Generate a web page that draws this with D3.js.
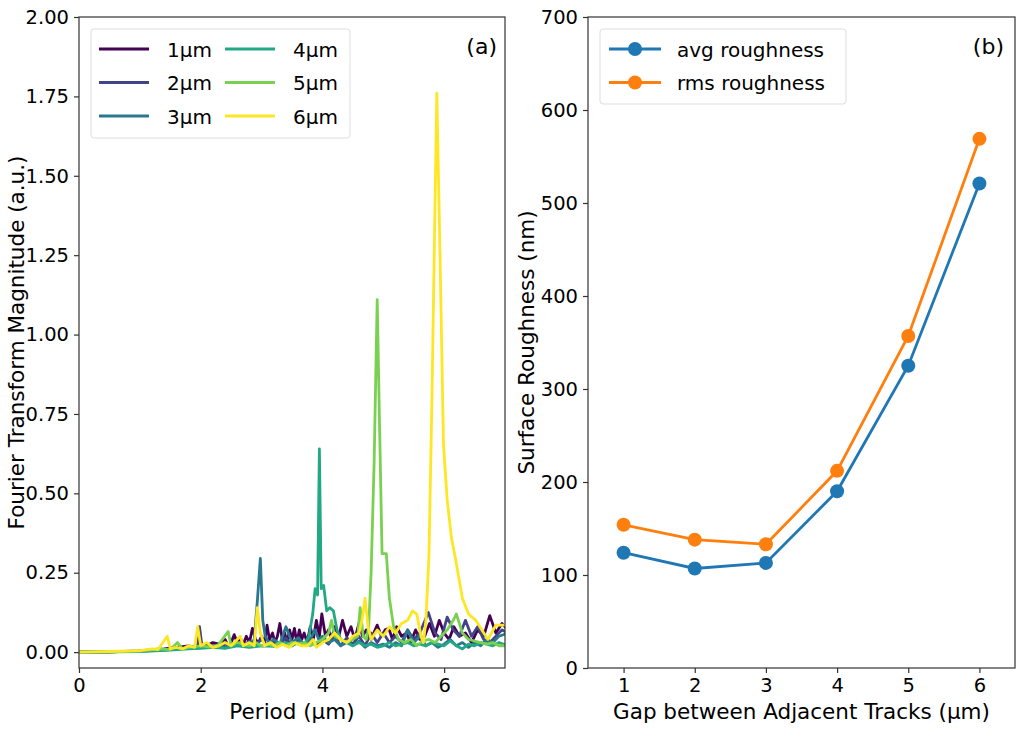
<!DOCTYPE html>
<html>
<head>
<meta charset="utf-8">
<script src="https://cdn.jsdelivr.net/npm/d3@7"></script>
<style>
  body { margin: 0; background: #fff; }
  text { font-family: "DejaVu Sans", sans-serif; fill: #000; }
</style>
</head>
<body>
<svg id="chart" width="1025" height="734"></svg>
<script>
// ---- data: panel (a), FFT magnitude vs period, [period µm, magnitude]
const gap1 = [[0,0],[0.5,0.001],[1,0.004],[1.2,0.008],[1.4,0.01],[1.6,0.015],[1.8,0.02],[1.9,0.015],[2.0,0.025],[2.1,0.02],[2.2,0.03],[2.3,0.025],[2.4,0.04],[2.45,0.02],[2.5,0.03],[2.55,0.055],[2.6,0.03],[2.65,0.045],[2.7,0.025],[2.75,0.05],[2.8,0.03],[2.85,0.075],[2.9,0.04],[2.95,0.03],[3.0,0.05],[3.05,0.03],[3.09,0.085],[3.13,0.04],[3.18,0.06],[3.22,0.03],[3.26,0.05],[3.3,0.09],[3.34,0.04],[3.38,0.06],[3.42,0.03],[3.46,0.07],[3.5,0.04],[3.54,0.075],[3.58,0.03],[3.62,0.07],[3.66,0.04],[3.7,0.06],[3.75,0.03],[3.8,0.08],[3.85,0.04],[3.9,0.1],[3.95,0.05],[3.99,0.12],[4.05,0.05],[4.1,0.07],[4.15,0.04],[4.2,0.08],[4.27,0.05],[4.33,0.1],[4.4,0.05],[4.47,0.08],[4.53,0.04],[4.6,0.09],[4.66,0.05],[4.72,0.07],[4.8,0.04],[4.9,0.085],[4.97,0.05],[5.03,0.07],[5.09,0.075],[5.15,0.04],[5.22,0.08],[5.3,0.05],[5.38,0.06],[5.45,0.03],[5.53,0.07],[5.6,0.04],[5.68,0.05],[5.76,0.09],[5.84,0.05],[5.92,0.1],[6.0,0.06],[6.08,0.04],[6.16,0.08],[6.25,0.05],[6.35,0.06],[6.45,0.03],[6.55,0.07],[6.65,0.05],[6.75,0.115],[6.85,0.06],[6.95,0.09],[7.05,0.07]];
const gap2 = [[0,0],[0.5,0.001],[1,0.003],[1.3,0.006],[1.6,0.01],[1.8,0.015],[1.95,0.02],[1.98,0.08],[2.02,0.02],[2.1,0.015],[2.2,0.02],[2.3,0.015],[2.4,0.025],[2.5,0.02],[2.6,0.03],[2.7,0.02],[2.8,0.035],[2.9,0.025],[3.0,0.04],[3.1,0.02],[3.2,0.035],[3.3,0.025],[3.4,0.045],[3.5,0.02],[3.6,0.04],[3.7,0.025],[3.8,0.035],[3.9,0.02],[4.0,0.04],[4.1,0.025],[4.2,0.05],[4.3,0.02],[4.4,0.045],[4.5,0.025],[4.6,0.05],[4.7,0.02],[4.8,0.06],[4.9,0.03],[5.0,0.06],[5.1,0.03],[5.2,0.05],[5.3,0.03],[5.4,0.07],[5.5,0.04],[5.6,0.06],[5.74,0.125],[5.85,0.06],[5.95,0.04],[6.05,0.11],[6.15,0.07],[6.25,0.05],[6.35,0.1],[6.45,0.05],[6.55,0.08],[6.65,0.04],[6.75,0.03],[6.85,0.05],[6.95,0.07],[7.05,0.06]];
const gap3 = [[0,0],[0.5,0.001],[1,0.003],[1.5,0.008],[1.8,0.012],[2.0,0.015],[2.2,0.02],[2.4,0.015],[2.6,0.025],[2.8,0.02],[2.88,0.04],[2.93,0.16],[2.98,0.295],[3.02,0.1],[3.06,0.05],[3.12,0.03],[3.2,0.04],[3.3,0.025],[3.4,0.08],[3.5,0.03],[3.6,0.045],[3.7,0.025],[3.8,0.04],[3.88,0.07],[3.94,0.04],[4.0,0.05],[4.1,0.03],[4.2,0.04],[4.3,0.02],[4.4,0.03],[4.5,0.02],[4.6,0.035],[4.7,0.015],[4.8,0.03],[4.9,0.02],[5.0,0.025],[5.1,0.015],[5.2,0.03],[5.3,0.02],[5.4,0.07],[5.5,0.03],[5.6,0.05],[5.7,0.02],[5.8,0.03],[5.9,0.015],[6.0,0.025],[6.1,0.04],[6.2,0.02],[6.3,0.03],[6.4,0.015],[6.5,0.03],[6.6,0.02],[6.7,0.04],[6.8,0.03],[6.9,0.05],[7.05,0.06]];
const gap4 = [[0,0],[0.5,0.001],[1,0.002],[1.5,0.006],[1.8,0.01],[2.0,0.012],[2.2,0.015],[2.4,0.012],[2.6,0.02],[2.8,0.015],[3.0,0.02],[3.2,0.018],[3.4,0.03],[3.5,0.02],[3.6,0.03],[3.7,0.025],[3.78,0.05],[3.84,0.12],[3.88,0.2],[3.92,0.18],[3.95,0.64],[3.98,0.2],[4.02,0.21],[4.07,0.13],[4.12,0.14],[4.18,0.13],[4.24,0.07],[4.3,0.04],[4.4,0.03],[4.5,0.02],[4.6,0.03],[4.7,0.02],[4.8,0.025],[4.9,0.015],[5.0,0.02],[5.1,0.03],[5.2,0.02],[5.3,0.025],[5.4,0.03],[5.5,0.02],[5.6,0.025],[5.7,0.02],[5.8,0.03],[5.9,0.025],[6.0,0.02],[6.1,0.035],[6.2,0.02],[6.3,0.01],[6.4,0.025],[6.5,0.02],[6.6,0.03],[6.7,0.025],[6.8,0.02],[6.9,0.03],[7.05,0.02]];
const gap5 = [[0,0],[0.5,0.001],[1,0.003],[1.3,0.01],[1.5,0.008],[1.62,0.03],[1.7,0.01],[1.8,0.015],[2.0,0.02],[2.2,0.015],[2.3,0.025],[2.45,0.065],[2.5,0.02],[2.6,0.03],[2.7,0.025],[2.8,0.02],[2.9,0.03],[3.0,0.02],[3.1,0.025],[3.2,0.02],[3.3,0.03],[3.4,0.02],[3.5,0.03],[3.6,0.025],[3.7,0.03],[3.8,0.02],[3.9,0.03],[4.0,0.04],[4.1,0.06],[4.15,0.1],[4.2,0.05],[4.3,0.04],[4.4,0.03],[4.5,0.04],[4.58,0.05],[4.62,0.14],[4.67,0.05],[4.72,0.04],[4.76,0.08],[4.8,0.25],[4.85,0.6],[4.9,1.11],[4.94,0.7],[4.98,0.31],[5.05,0.31],[5.1,0.17],[5.17,0.08],[5.25,0.04],[5.35,0.03],[5.45,0.04],[5.55,0.02],[5.65,0.035],[5.75,0.04],[5.85,0.03],[5.95,0.05],[6.05,0.07],[6.15,0.1],[6.2,0.12],[6.3,0.06],[6.4,0.04],[6.5,0.035],[6.6,0.03],[6.7,0.025],[6.8,0.03],[6.9,0.02],[7.05,0.02]];
const gap6 = [[0,0],[0.5,0.002],[1,0.005],[1.2,0.01],[1.3,0.008],[1.45,0.05],[1.5,0.01],[1.6,0.015],[1.7,0.01],[1.8,0.02],[1.9,0.015],[1.95,0.08],[2.0,0.02],[2.1,0.03],[2.2,0.015],[2.3,0.02],[2.4,0.03],[2.5,0.02],[2.6,0.04],[2.65,0.05],[2.7,0.02],[2.8,0.03],[2.88,0.02],[2.93,0.14],[2.98,0.06],[3.05,0.02],[3.15,0.03],[3.25,0.015],[3.35,0.025],[3.45,0.015],[3.55,0.03],[3.65,0.02],[3.75,0.02],[3.85,0.04],[3.9,0.015],[4.0,0.03],[4.1,0.04],[4.2,0.06],[4.3,0.04],[4.4,0.03],[4.5,0.05],[4.6,0.06],[4.65,0.1],[4.7,0.17],[4.75,0.08],[4.8,0.04],[4.9,0.07],[5.0,0.05],[5.1,0.08],[5.2,0.06],[5.3,0.09],[5.4,0.1],[5.48,0.13],[5.55,0.12],[5.62,0.05],[5.66,0.03],[5.7,0.1],[5.75,0.3],[5.8,0.8],[5.83,1.17],[5.88,1.76],[5.94,1.17],[5.99,0.65],[6.05,0.48],[6.12,0.36],[6.19,0.29],[6.3,0.17],[6.4,0.12],[6.52,0.1],[6.62,0.07],[6.72,0.04],[6.85,0.085],[7.05,0.085]];

const fftSeries = [gap1, gap2, gap3, gap4, gap5, gap6];
const fftLabels = ["1µm", "2µm", "3µm", "4µm", "5µm", "6µm"];
const fftColors = ["#440154", "#414487", "#2a788e", "#22a884", "#7ad151", "#fde725"];
const periodTicks = [0, 2, 4, 6];
const magTicks = [0, 0.25, 0.5, 0.75, 1.0, 1.25, 1.5, 1.75, 2.0];

// ---- data: panel (b), roughness vs gap
const gaps = [1, 2, 3, 4, 5, 6];
const avgRough = [124, 107, 113, 190, 325, 521];
const rmsRough = [154, 138, 133, 212, 357, 569];
const roughLabels = ["avg roughness", "rms roughness"];
const roughColors = ["#1f77b4", "#ff7f0e"];
const roughTicks = [0, 100, 200, 300, 400, 500, 600, 700];

const tickSize = 19.5, labelSize = 21.5, legendSize = 20, tagSize = 22;
const svg = d3.select("#chart");

function frame(g, x, y) {
  const [x0, x1] = x.range(), [y0, y1] = y.range();
  g.append("rect").attr("x", x0).attr("y", y1).attr("width", x1 - x0).attr("height", y0 - y1)
    .attr("fill", "none").attr("stroke", "#333").attr("stroke-width", 1.2);
}

function styleAxis(a) {
  a.select(".domain").remove();
  a.selectAll(".tick line").attr("stroke", "#333").attr("stroke-width", 1.2);
  a.selectAll(".tick text").style("font-size", tickSize + "px")
    .style("font-family", "'DejaVu Sans', sans-serif").attr("fill", "#000");
}

// ---------------- panel (a)
const ax = { left: 79, right: 505, top: 17, bottom: 668 };
const xA = d3.scaleLinear().domain([0, 7]).range([ax.left, ax.right]);
const yA = d3.scaleLinear().domain([-0.05, 2.0]).range([ax.bottom, ax.top]);

const gA = svg.append("g");
gA.append("clipPath").attr("id", "clipA").append("rect")
  .attr("x", ax.left).attr("y", ax.top).attr("width", ax.right - ax.left).attr("height", ax.bottom - ax.top);

const lineA = d3.line().x(d => xA(d[0])).y(d => yA(d[1]));
gA.append("g").attr("clip-path", "url(#clipA)")
  .selectAll("path").data(fftSeries).join("path")
  .attr("d", lineA).attr("fill", "none")
  .attr("stroke", (d, i) => fftColors[i]).attr("stroke-width", 2.8)
  .attr("stroke-linejoin", "round");

styleAxis(gA.append("g").attr("transform", `translate(0,${ax.bottom})`)
  .call(d3.axisBottom(xA).tickValues(periodTicks).tickFormat(d3.format("d")).tickSizeOuter(0).tickSize(5).tickPadding(5)));
styleAxis(gA.append("g").attr("transform", `translate(${ax.left},0)`)
  .call(d3.axisLeft(yA).tickValues(magTicks).tickFormat(d3.format(".2f")).tickSizeOuter(0).tickSize(5).tickPadding(5)));
frame(gA, xA, yA);

gA.append("text").attr("x", (ax.left + ax.right) / 2).attr("y", 719)
  .attr("text-anchor", "middle").style("font-size", labelSize + "px").text("Period (µm)");
gA.append("text").attr("transform", `translate(24,${(ax.top + ax.bottom) / 2}) rotate(-90)`)
  .attr("text-anchor", "middle").style("font-size", labelSize + "px").text("Fourier Transform Magnitude (a.u.)");
gA.append("text").attr("x", 497).attr("y", 54).attr("text-anchor", "end")
  .style("font-size", tagSize + "px").text("(a)");

// legend (a): 2 columns x 3 rows
const legA = gA.append("g");
legA.append("rect").attr("x", 91).attr("y", 29).attr("width", 259).attr("height", 109).attr("rx", 3)
  .attr("fill", "#fff").attr("fill-opacity", 0.8).attr("stroke", "#ddd");
fftLabels.forEach((lab, i) => {
  const col = Math.floor(i / 3), row = i % 3;
  const lx = 99 + col * 126, ly = 49 + row * 33.5;
  legA.append("line").attr("x1", lx).attr("x2", lx + 50).attr("y1", ly).attr("y2", ly)
    .attr("stroke", fftColors[i]).attr("stroke-width", 2.8);
  legA.append("text").attr("x", lx + 68).attr("y", ly + 7.5).style("font-size", legendSize + "px").text(lab);
});

// ---------------- panel (b)
const bx = { left: 588, right: 1015, top: 17, bottom: 668 };
const xB = d3.scaleLinear().domain([0.5, 6.5]).range([bx.left, bx.right]);
const yB = d3.scaleLinear().domain([0, 700]).range([bx.bottom, bx.top]);
const gB = svg.append("g");

const roughSeries = [avgRough, rmsRough];
const lineB = d3.line().x((d, i) => xB(gaps[i])).y(d => yB(d));
roughSeries.forEach((vals, s) => {
  gB.append("path").datum(vals).attr("d", lineB).attr("fill", "none")
    .attr("stroke", roughColors[s]).attr("stroke-width", 2.8);
  gB.selectAll(null).data(vals).join("circle")
    .attr("cx", (d, i) => xB(gaps[i])).attr("cy", d => yB(d)).attr("r", 7)
    .attr("fill", roughColors[s]);
});

styleAxis(gB.append("g").attr("transform", `translate(0,${bx.bottom})`)
  .call(d3.axisBottom(xB).tickValues(gaps).tickFormat(d3.format("d")).tickSizeOuter(0).tickSize(5).tickPadding(5)));
styleAxis(gB.append("g").attr("transform", `translate(${bx.left},0)`)
  .call(d3.axisLeft(yB).tickValues(roughTicks).tickFormat(d3.format("d")).tickSizeOuter(0).tickSize(5).tickPadding(5)));
frame(gB, xB, yB);

gB.append("text").attr("x", (bx.left + bx.right) / 2).attr("y", 719)
  .attr("text-anchor", "middle").style("font-size", labelSize + "px").text("Gap between Adjacent Tracks (µm)");
gB.append("text").attr("transform", `translate(534,${(bx.top + bx.bottom) / 2}) rotate(-90)`)
  .attr("text-anchor", "middle").style("font-size", labelSize + "px").text("Surface Roughness (nm)");
gB.append("text").attr("x", 1004).attr("y", 54).attr("text-anchor", "end")
  .style("font-size", tagSize + "px").text("(b)");

const legB = gB.append("g");
legB.append("rect").attr("x", 600).attr("y", 29).attr("width", 246).attr("height", 75).attr("rx", 3)
  .attr("fill", "#fff").attr("fill-opacity", 0.8).attr("stroke", "#ddd");
roughLabels.forEach((lab, i) => {
  const ly = 49 + i * 33.5;
  legB.append("line").attr("x1", 609).attr("x2", 661).attr("y1", ly).attr("y2", ly)
    .attr("stroke", roughColors[i]).attr("stroke-width", 2.8);
  legB.append("circle").attr("cx", 635).attr("cy", ly).attr("r", 7).attr("fill", roughColors[i]);
  legB.append("text").attr("x", 677).attr("y", ly + 7.5).style("font-size", legendSize + "px").text(lab);
});
</script>
</body>
</html>
